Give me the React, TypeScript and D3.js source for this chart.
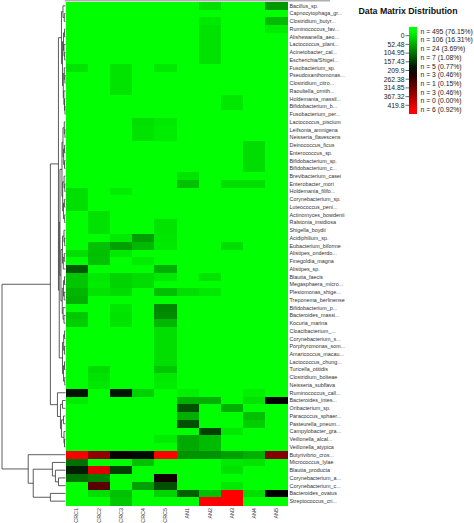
import React from "react";
import * as d3 from "d3";

const colLabels = ["CRC1", "CRC2", "CRC3", "CRC4", "CRC5", "AN1", "AN2", "AN3", "AN4", "AN5"];

const rowLabels = [
  "Bacillus_sp.", "Capnocytophaga_gr...", "Clostridium_butyr...", "Ruminococcus_fav...", "Alishewanella_aeo...",
  "Lactococcus_plant...", "Acinetobacter_cal...", "Escherichia/Shigel...", "Fusobacterium_sp.", "Pseudoxanthomonas...",
  "Clostridium_citro...", "Raoultella_ornith...", "Holdemania_massil...", "Bifidobacterium_b...", "Fusobacterium_per...",
  "Lactococcus_piscium", "Leifsonia_amnigena", "Neisseria_flavescens", "Deinococcus_ficus", "Enterococcus_sp.",
  "Bifidobacterium_sp.", "Bifidobacterium_c...", "Brevibacterium_casei", "Enterobacter_mori", "Holdemania_filifo...",
  "Corynebacterium_sp.", "Luteococcus_peni...", "Actinomyces_bowdenii", "Ralstonia_insidiosa", "Shigella_boydii",
  "Acidiphilium_sp.", "Eubacterium_biforme", "Alistipes_onderdo...", "Finegoldia_magna", "Alistipes_sp.",
  "Blautia_faecis", "Megasphaera_micro...", "Plesiomonas_shige...", "Treponema_berlinense", "Bifidobacterium_p...",
  "Bacteroides_massi...", "Kocuria_marina", "Cloacibacterium_...", "Corynebacterium_s...", "Porphyromonas_som...",
  "Amaricoccus_macau...", "Lactococcus_chung...", "Turicella_otitidis", "Clostridium_bolteae", "Neisseria_subflava",
  "Ruminococcus_call...", "Bacteroides_intes...", "Oribacterium_sp.", "Paracoccus_sphaer...", "Pasteurella_pneum...",
  "Campylobacter_gra...", "Veillonella_alcal...", "Veillonella_atypica", "Butyrivibrio_cros...", "Micrococcus_lylae",
  "Blautia_producta", "Corynebacterium_a...", "Corynebacterium_c...", "Bacteroides_ovatus", "Streptococcus_cri...",
];

// columns: CRC1 CRC2 CRC3 CRC4 CRC5 AN1 AN2 AN3 AN4 AN5
const values = [
  [0, 0, 0, 0, 0, 0, 26, 0, 0, 85],
  [0, 0, 0, 0, 0, 0, 0, 0, 0, 0],
  [0, 0, 0, 0, 0, 0, 18, 0, 0, 55],
  [0, 0, 0, 0, 0, 0, 24, 0, 0, 15],
  [0, 0, 0, 0, 0, 0, 24, 0, 0, 0],
  [0, 0, 0, 0, 0, 0, 24, 0, 0, 0],
  [0, 0, 0, 0, 0, 0, 24, 0, 0, 0],
  [0, 0, 0, 0, 0, 0, 24, 0, 0, 0],
  [22, 0, 22, 0, 18, 0, 0, 0, 0, 0],
  [0, 0, 22, 0, 0, 0, 0, 0, 0, 0],
  [0, 0, 22, 0, 0, 0, 0, 0, 0, 0],
  [0, 0, 22, 0, 0, 0, 0, 0, 0, 0],
  [0, 0, 0, 0, 0, 0, 0, 20, 0, 0],
  [0, 0, 0, 0, 0, 0, 0, 20, 0, 0],
  [0, 0, 0, 0, 0, 0, 0, 0, 0, 0],
  [0, 0, 0, 26, 18, 0, 0, 0, 0, 0],
  [0, 0, 0, 24, 16, 0, 0, 0, 0, 0],
  [0, 0, 0, 24, 16, 0, 0, 0, 0, 0],
  [0, 0, 0, 0, 0, 0, 0, 0, 28, 0],
  [0, 0, 0, 0, 0, 0, 0, 0, 28, 0],
  [0, 0, 0, 0, 0, 0, 0, 0, 28, 0],
  [0, 0, 0, 0, 0, 0, 0, 0, 28, 0],
  [0, 0, 0, 0, 0, 22, 0, 0, 0, 0],
  [0, 0, 0, 0, 0, 50, 0, 26, 26, 0],
  [26, 0, 15, 0, 0, 0, 0, 0, 0, 0],
  [26, 0, 0, 0, 0, 0, 0, 0, 0, 0],
  [26, 0, 0, 0, 0, 0, 0, 0, 0, 0],
  [0, 24, 0, 0, 0, 0, 0, 0, 0, 0],
  [0, 24, 0, 0, 22, 0, 0, 0, 0, 0],
  [0, 24, 0, 0, 22, 0, 0, 0, 0, 0],
  [0, 0, 18, 80, 20, 0, 0, 0, 0, 0],
  [0, 50, 78, 58, 18, 0, 0, 26, 0, 0],
  [26, 52, 18, 0, 0, 0, 0, 0, 0, 0],
  [0, 50, 0, 15, 0, 0, 0, 0, 0, 0],
  [138, 0, 0, 0, 65, 0, 0, 0, 0, 0],
  [48, 18, 35, 30, 18, 0, 22, 0, 0, 0],
  [48, 15, 35, 28, 0, 0, 0, 0, 0, 0],
  [60, 22, 30, 0, 52, 26, 18, 0, 0, 0],
  [65, 0, 0, 0, 0, 0, 0, 0, 0, 0],
  [0, 0, 20, 0, 100, 0, 0, 0, 0, 0],
  [45, 0, 24, 0, 95, 0, 0, 0, 0, 0],
  [40, 0, 22, 0, 60, 0, 0, 0, 0, 0],
  [0, 0, 0, 0, 26, 0, 0, 0, 0, 0],
  [0, 0, 0, 0, 26, 0, 0, 0, 0, 0],
  [0, 0, 0, 0, 26, 0, 0, 0, 0, 0],
  [0, 0, 0, 0, 26, 0, 0, 0, 0, 0],
  [0, 0, 0, 0, 26, 0, 0, 0, 0, 0],
  [0, 30, 0, 0, 45, 0, 0, 0, 0, 0],
  [0, 24, 0, 0, 18, 0, 0, 0, 0, 0],
  [0, 20, 0, 0, 15, 0, 0, 0, 0, 0],
  [195, 0, 190, 38, 0, 12, 0, 0, 12, 0],
  [15, 0, 0, 0, 0, 65, 65, 0, 24, 210],
  [0, 0, 0, 0, 0, 144, 0, 65, 0, 0],
  [0, 0, 0, 0, 0, 65, 0, 0, 52, 0],
  [0, 0, 0, 0, 0, 144, 0, 0, 40, 0],
  [0, 0, 0, 0, 0, 0, 157, 18, 0, 0],
  [0, 0, 0, 0, 15, 70, 55, 0, 0, 0],
  [0, 0, 0, 0, 0, 70, 55, 0, 0, 0],
  [415, 330, 222, 200, 420, 90, 90, 78, 65, 320],
  [118, 0, 0, 50, 0, 0, 0, 18, 22, 0],
  [184, 395, 157, 0, 0, 0, 0, 24, 0, 0],
  [118, 105, 0, 0, 225, 0, 0, 0, 0, 0],
  [0, 285, 0, 78, 144, 0, 0, 18, 0, 0],
  [0, 26, 52, 0, 35, 131, 52, 420, 26, 210],
  [0, 0, 45, 0, 0, 0, 420, 420, 0, 0],
];

const legendTicks = [0, 52.48, 104.95, 157.43, 209.9, 262.38, 314.85, 367.32, 419.8];
const legendCounts = [
  "n = 495 (76.15%)", "n = 106 (16.31%)", "n = 24 (3.69%)", "n = 7 (1.08%)", "n = 5 (0.77%)",
  "n = 3 (0.46%)", "n = 1 (0.15%)", "n = 3 (0.46%)", "n = 0 (0.00%)", "n = 6 (0.92%)",
];

// dendrogram: [mergeHeight, left, right]; a number is a leaf (row index)
const treeA1 = [2.5, 0, [1.2, 1, 2]];
const treeA2 = [3, [2, [1, 3, 4], [1.5, 5, [0.8, 6, 7]]], [2.2, [1.2, 8, [0.6, 9, 10]], [1.6, 11, [1, 12, [0.5, 13, 14]]]]];
const treeB1 = [5.5,
  [3.5, [2.5, [1.2, 15, [0.6, 16, 17]], [1.8, [0.9, 18, 19], [1, 20, 21]]], [2.8, [1.4, 22, [0.7, 23, 24]], [2, [1.1, 25, 26], [0.8, 27, 28]]]],
  [4.5, [3, [1.5, 29, [0.8, 30, 31]], [2.2, [1.2, 32, 33], 34]], [3.2, [2, [1, 35, 36], [1.3, 37, 38]], [2.4, 39, [1.5, 40, 41]]]],
];
const treeB2 = [3, [1.8, [0.9, 42, 43], [1.1, 44, 45]], [2, [1, 46, 47], [0.7, 48, 49]]];
const treeL = [8, 50, [5, [3, 51, 52], [4, [2, 53, 54], [1.5, 55, [1, 56, 57]]]]];
const treeS = [37, 58, [32, [13, 59, [10, 60, [7, 61, 62]]], [15, 63, 64]]];
const tree = [63, [15, [7, [4, treeA1, treeA2], [6.2, treeB1, treeB2]], treeL], treeS];

export default function App() {
  const W = 474;
  const H = 523;
  const x = d3.scaleBand<number>().domain(d3.range(colLabels.length)).range([65.5, 287.5]);
  const y = d3.scaleBand<number>().domain(d3.range(rowLabels.length)).range([2, 505]);
  const color = d3.scaleLinear<string>().domain([0, 209.9, 419.8]).range(["#00ff00", "#000000", "#ff0000"]);
  const hx = d3.scaleLinear().domain([0, 63]).range([65.5, 2]);

  const paths: string[] = [];
  const layout = (node: any): { yy: number; h: number } => {
    if (typeof node === "number") return { yy: (y(node) as number) + y.bandwidth() / 2, h: 0 };
    const [h, l, r] = node;
    const a = layout(l);
    const b = layout(r);
    const p = d3.path();
    p.moveTo(hx(a.h), a.yy);
    p.lineTo(hx(h), a.yy);
    p.lineTo(hx(h), b.yy);
    p.lineTo(hx(b.h), b.yy);
    paths.push(p.toString());
    return { yy: (a.yy + b.yy) / 2, h };
  };
  layout(tree);

  const barTop = 27;
  const segH = 8.7;
  const legY = d3.scaleLinear().domain([0, 419.8]).range([barTop + segH, barTop + 9 * segH]);
  const nSeg = legendCounts.length;

  return (
    <svg width={W} height={H} style={{ position: "absolute", left: 0, top: 0, background: "#fff" }}
      fontFamily="Liberation Sans, Arial, sans-serif">
      <defs>
        <linearGradient id="lg" x1="0" y1="0" x2="0" y2="1">
          {d3.range(nSeg).map((i) => (
            <stop key={i} offset={(i + 0.5) / nSeg} stopColor={color((i * 419.8) / (nSeg - 1))} />
          ))}
        </linearGradient>
      </defs>
      <rect x={65} y={0} width={265} height={1.5} fill="#b0b0b0" />
      <g shapeRendering="crispEdges">
        {values.map((row, r) =>
          row.map((v, c) => (
            <rect key={`${r}-${c}`} x={x(c)} y={y(r)} width={x.bandwidth() + 0.6} height={y.bandwidth() + 0.6} fill={color(v)} />
          ))
        )}
      </g>
      {paths.map((d, i) => (
        <path key={i} d={d} fill="none" stroke="#333" strokeWidth={0.8} />
      ))}
      {rowLabels.map((t, r) => (
        <text key={t + r} x={289.5} y={(y(r) as number) + y.bandwidth() / 2} dy="0.35em" fontSize={5.4} fill="#333">
          {t}
        </text>
      ))}
      {colLabels.map((t, c) => (
        <text key={t} transform={`translate(${(x(c) as number) + x.bandwidth() / 2},508) rotate(-90)`} dy="0.35em"
          textAnchor="end" fontSize={5.4} fill="#333">
          {t}
        </text>
      ))}
      <text x={408} y={13.5} textAnchor="middle" fontSize={8.8} fontWeight="bold" fill="#111">
        Data Matrix Distribution
      </text>
      <rect x={409} y={barTop} width={8} height={segH * nSeg} fill="url(#lg)" />
      {legendTicks.map((t) => (
        <g key={t}>
          <line x1={405.5} x2={409} y1={legY(t)} y2={legY(t)} stroke="#333" strokeWidth={0.7} />
          <text x={404.5} y={legY(t)} dy="0.35em" textAnchor="end" fontSize={6.8} fill="#222">
            {String(t)}
          </text>
        </g>
      ))}
      {legendCounts.map((t, i) => (
        <text key={t + i} x={420.5} y={barTop + (i + 0.5) * segH} dy="0.35em" fontSize={6.8} fill="#222">
          {t}
        </text>
      ))}
    </svg>
  );
}
